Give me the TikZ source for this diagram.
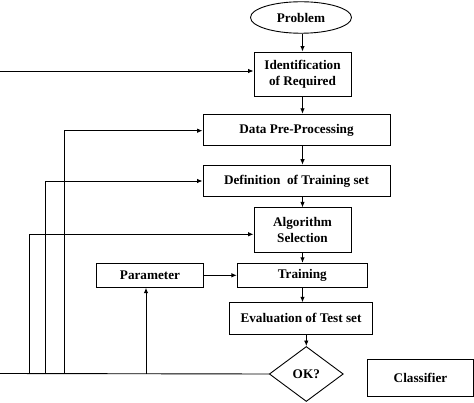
\documentclass[tikz,border=0pt]{standalone}
\usepackage{fontspec}
\setmainfont{Liberation Serif}
\usetikzlibrary{shapes.geometric,arrows.meta}
\begin{document}
\begin{tikzpicture}[x=1pt,y=-1pt,
  every node/.style={font=\fontsize{13.2}{16}\selectfont\bfseries, inner sep=0pt, align=center},
  box/.style={draw, line width=0.9pt, rectangle},
  arr/.style={-{Latex[length=5.5pt,width=4.5pt]}, line width=0.9pt},
  ln/.style={line width=0.9pt}]
\useasboundingbox (0,0) rectangle (474,403);
\node[draw, ellipse, line width=0.9pt, minimum width=101pt, minimum height=31.5pt] (prob) at (301,17.5) {Problem};
\node[box, minimum width=97pt, minimum height=44pt] (ident) at (302.5,74) {Identification\\of Required};
\node[box, minimum width=187pt, minimum height=31.5pt] (pre) at (296.5,130) {Data Pre-Processing};
\node[box, minimum width=187pt, minimum height=31.7pt] (def) at (296.5,181) {Definition\ \ of Training set};
\node[box, minimum width=97pt, minimum height=44.3pt] (algo) at (302.5,230) {Algorithm\\Selection};
\node[box, minimum width=106.6pt, minimum height=24pt] (param) at (150,275.3) {Parameter};
\node[box, minimum width=130pt, minimum height=24pt] (train) at (302.3,275.3) {Training};
\node[box, minimum width=143.4pt, minimum height=31.3pt] (eval) at (301,318.4) {Evaluation of Test set};
\node[draw, diamond, line width=0.9pt, minimum width=74pt, minimum height=55pt, aspect=1.35] (ok) at (306.3,374) {OK?};
\node[box, minimum width=106pt, minimum height=37pt] (cls) at (420.5,377.7) {Classifier};

\coordinate (b0) at (0,373.5);
\coordinate (bA) at (29.3,373.5);
\coordinate (bB) at (45.3,373.5);
\coordinate (bC) at (64.3,373.5);
\coordinate (bP) at (146,373.5);
\coordinate (l0) at (0,71);

\draw[arr] (prob.south -| ident.north) -- (ident.north);
\draw[arr] (ident.south) -- (ident.south |- pre.north);
\draw[arr] (ident.south |- pre.south) -- (ident.south |- def.north);
\draw[arr] (algo.north |- def.south) -- (algo.north);
\draw[arr] (algo.south) -- (algo.south |- train.north);
\draw[arr] (param.east) -- (train.west);
\draw[arr] (algo.south |- train.south) -- (algo.south |- eval.north);
\draw[arr] (ok.north |- eval.south) -- (ok.north);
\draw[ln] (ok.west) -- (b0);
\draw[arr] (l0) -- (l0 -| ident.west);
\draw[arr] (bC) -- (64.3,130.7) -- (64.3,130.7 -| pre.west);
\draw[arr] (bB) -- (45.3,181) -- (45.3,181 -| def.west);
\draw[arr] (bA) -- (29.3,234.3) -- (29.3,234.3 -| algo.west);
\draw[arr] (bP) -- (bP |- param.south);
\end{tikzpicture}
\end{document}
